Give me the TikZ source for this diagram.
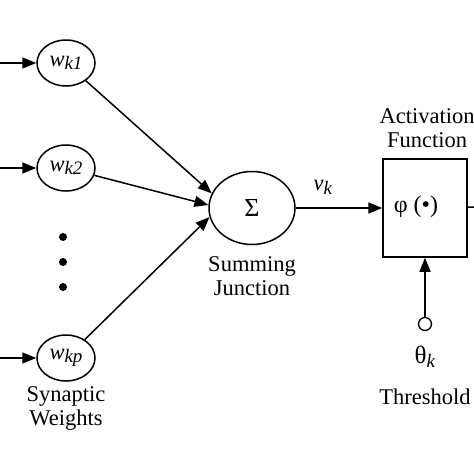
\documentclass[tikz,border=0pt]{standalone}
\usepackage{fontspec}
\setmainfont{Liberation Serif}
\usetikzlibrary{shapes,arrows.meta}

\newcommand{\wgt}[1]{\textit{w\raisebox{-3pt}{\fontsize{19}{19}\selectfont k#1}}}
\newcommand{\subk}[1]{#1\raisebox{-4pt}{\fontsize{19}{19}\selectfont\textit{k}}}

\begin{document}
\begin{tikzpicture}[x=1pt,y=-1pt]
\tikzstyle{every node}=[font=\fontsize{22.5}{24}\selectfont]
\tikzstyle{weight}=[ellipse,draw,line width=1.5pt,minimum width=58pt,minimum height=46pt,inner sep=0pt]
\tikzstyle{summer}=[ellipse,draw,line width=1.5pt,minimum width=86pt,minimum height=73pt,inner sep=0pt]
\tikzstyle{actbox}=[rectangle,draw,line width=1.5pt,minimum width=84pt,minimum height=98pt]
\tikzstyle{wire}=[line width=1.5pt,-{Triangle[length=14pt,width=11pt]}]
\tikzstyle{caption}=[align=center]
\tikzstyle{bullet}=[circle,fill,inner sep=0pt,minimum size=8pt]
\useasboundingbox (0,0) rectangle (474,474);

% inputs and synaptic weights
\coordinate (x1) at (0,63);
\coordinate (x2) at (0,168);
\coordinate (xp) at (0,358);
\node[weight] (wk1) at (66,63) {\wgt{1}};
\node[weight] (wk2) at (66,168) {\wgt{2}};
\node[weight] (wkp) at (66,358) {\wgt{p}};
\node[bullet] (d1) at (63,237) {};
\node[bullet] (d2) at (63,262) {};
\node[bullet] (d3) at (63,287) {};
\node[caption] (syn) at (66,408) {Synaptic\\Weights};

% summing junction
\node[summer] (sum) at (252,208) {\fontsize{26}{26}\selectfont Σ};
\node[caption] (sumlbl) at (252,276) {Summing\\Junction};

% activation
\node[actbox] (act) at (425,208) {};
\node (phi) at (416,207) {\fontsize{24}{24}\selectfont φ (•)};
\node[caption] (actlbl) at (427,128) {Activation\\Function};
\node (vk) at (323,187) {\subk{\textit{v}}};
\coordinate (out) at (474,207);

% threshold
\node[circle,draw,line width=1.3pt,minimum size=13pt,inner sep=0pt] (th) at (425,324) {};
\node (theta) at (425,357) {\fontsize{25}{25}\selectfont\subk{θ}};
\node (thlbl) at (425,397) {Threshold};

\draw[wire] (x1) -- (wk1);
\draw[wire] (x2) -- (wk2);
\draw[wire] (xp) -- (wkp);
\draw[wire] (wk1) -- (sum.160);
\draw[wire] (wk2) -- (sum.176);
\draw[wire] (wkp) -- (sum.192);
\draw[wire] (sum) -- (act);
\draw[wire] (th) -- (act);
\draw[line width=1.5pt] (act) -- (out);
\end{tikzpicture}
\end{document}
